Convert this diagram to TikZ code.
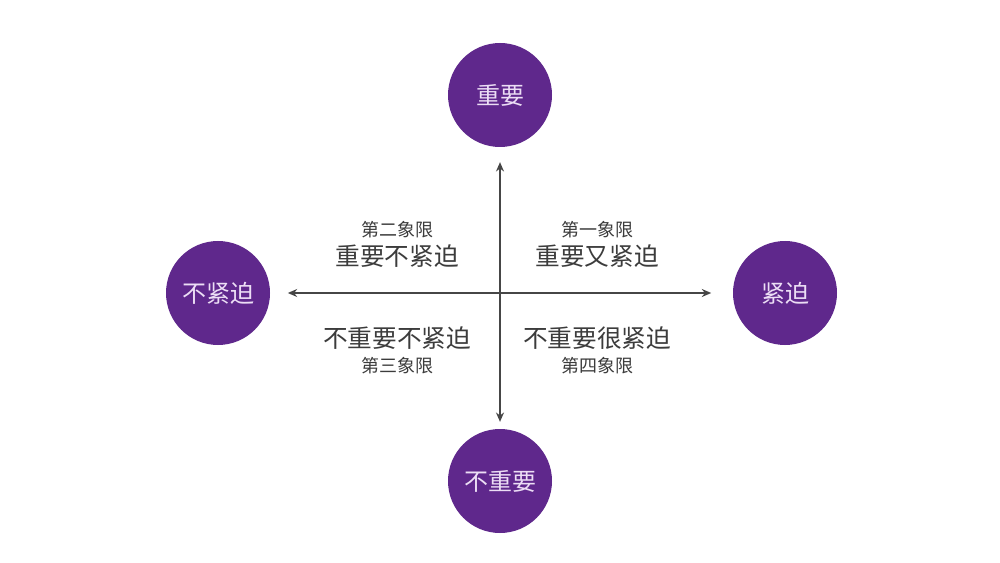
\documentclass[tikz,border=0pt]{standalone}
\usepackage{fontspec}
\setmainfont{Noto Sans CJK SC}
\usetikzlibrary{arrows.meta}
\definecolor{quadpurple}{RGB}{95,40,140}
\definecolor{quadtext}{RGB}{236,222,245}
\definecolor{axisgray}{RGB}{70,70,70}
\definecolor{labelgray}{RGB}{60,60,60}
\tikzset{every picture/.style={line width=0.75pt}}
\tikzset{
  pole/.style={circle, fill=quadpurple, draw=none, minimum size=78pt, inner sep=0pt, text=quadtext, font=\fontsize{18}{20}\selectfont},
  quadname/.style={text=labelgray, font=\fontsize{18.5}{20}\selectfont, inner sep=0pt},
  quadnum/.style={text=labelgray, font=\fontsize{13.5}{15}\selectfont, inner sep=0pt},
  axis/.style={draw=axisgray, line width=1.1pt, {Stealth[length=7pt,width=6pt]}-{Stealth[length=7pt,width=6pt]}}
}
\begin{document}
\begin{tikzpicture}[x=0.75pt,y=0.75pt,yscale=-1,xscale=1]
	\useasboundingbox[fill=white] (0,0) rectangle (1000,563); %whole picture

	% Poles
	\node[pole] (imp) at (500,95) {重要};
	\node[pole] (unimp) at (500,481) {不重要};
	\node[pole] (nourg) at (218,293) {不紧迫};
	\node[pole] (urg) at (785,293) {紧迫};

	% Axes
	\draw[axis, shorten <=11pt, shorten >=5pt] (imp) -- (unimp);
	\draw[axis, shorten <=13pt, shorten >=16pt] (nourg) -- (urg);

	% Text Node
	\node[quadnum] (q2num) at (397,230) {第二象限};
	\node[quadname] (q2) at (397,256) {重要不紧迫};
	% Text Node
	\node[quadnum] (q1num) at (597,230) {第一象限};
	\node[quadname] (q1) at (597,256) {重要又紧迫};
	% Text Node
	\node[quadname] (q3) at (397,338) {不重要不紧迫};
	\node[quadnum] (q3num) at (397,366) {第三象限};
	% Text Node
	\node[quadname] (q4) at (597,338) {不重要很紧迫};
	\node[quadnum] (q4num) at (597,366) {第四象限};

\end{tikzpicture}
\end{document}
